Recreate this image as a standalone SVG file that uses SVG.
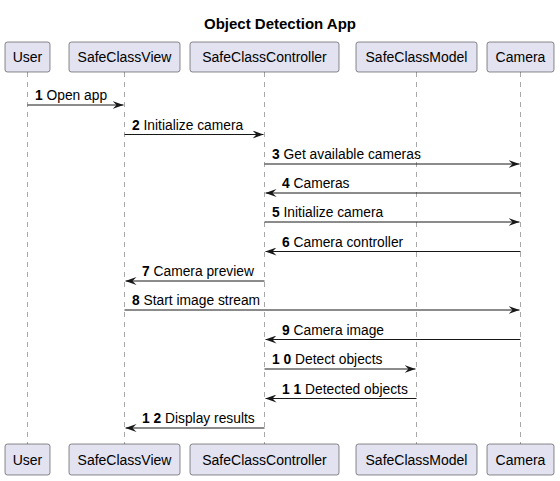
<svg xmlns="http://www.w3.org/2000/svg" width="560" height="481" viewBox="0 0 560 481">
<style>
text{font-family:"Liberation Sans",Arial,sans-serif;fill:#000}
.title{font-size:15px;font-weight:bold}
.pbox{fill:#E2E2F0;stroke:#181818;stroke-width:0.5}
.pname{font-size:14px}
.life{stroke:#A8A8A8;stroke-width:1;stroke-dasharray:5 5}
.msg{stroke:#181818;stroke-width:1}
.lbl{font-size:13.8px}
.num{font-weight:bold}
</style>
<defs>
<marker id="ah" viewBox="0 0 11 8" refX="11" refY="4" markerWidth="11" markerHeight="8" markerUnits="userSpaceOnUse" orient="auto">
<polygon points="0,0 11,4 0,8 4,4" fill="#181818"/>
</marker>
</defs>
<rect width="560" height="481" fill="#fff"/>
<text class="title" x="280" y="29" text-anchor="middle">Object Detection App</text>
<g id="lifelines">
<line class="life" x1="27.5" y1="72" x2="27.5" y2="444"/>
<line class="life" x1="124.5" y1="72" x2="124.5" y2="444"/>
<line class="life" x1="264.5" y1="72" x2="264.5" y2="444"/>
<line class="life" x1="416.5" y1="72" x2="416.5" y2="444"/>
<line class="life" x1="520.5" y1="72" x2="520.5" y2="444"/>
</g>
<g id="User">
<rect class="pbox" x="5" y="42" width="45" height="30" rx="2.5"/>
<text class="pname" x="27.5" y="62" text-anchor="middle">User</text>
<rect class="pbox" x="5" y="444" width="45" height="31" rx="2.5"/>
<text class="pname" x="27.5" y="465" text-anchor="middle">User</text>
</g>
<g id="SafeClassView">
<rect class="pbox" x="69" y="42" width="111" height="30" rx="2.5"/>
<text class="pname" x="124.5" y="62" text-anchor="middle">SafeClassView</text>
<rect class="pbox" x="69" y="444" width="111" height="31" rx="2.5"/>
<text class="pname" x="124.5" y="465" text-anchor="middle">SafeClassView</text>
</g>
<g id="SafeClassController">
<rect class="pbox" x="190" y="42" width="149" height="30" rx="2.5"/>
<text class="pname" x="264.5" y="62" text-anchor="middle">SafeClassController</text>
<rect class="pbox" x="190" y="444" width="149" height="31" rx="2.5"/>
<text class="pname" x="264.5" y="465" text-anchor="middle">SafeClassController</text>
</g>
<g id="SafeClassModel">
<rect class="pbox" x="356" y="42" width="121" height="30" rx="2.5"/>
<text class="pname" x="416.5" y="62" text-anchor="middle">SafeClassModel</text>
<rect class="pbox" x="356" y="444" width="121" height="31" rx="2.5"/>
<text class="pname" x="416.5" y="465" text-anchor="middle">SafeClassModel</text>
</g>
<g id="Camera">
<rect class="pbox" x="487" y="42" width="67" height="30" rx="2.5"/>
<text class="pname" x="520.5" y="62" text-anchor="middle">Camera</text>
<rect class="pbox" x="487" y="444" width="67" height="31" rx="2.5"/>
<text class="pname" x="520.5" y="465" text-anchor="middle">Camera</text>
</g>
<g id="connectors">
<line class="msg" x1="27.5" y1="105" x2="123.5" y2="105" marker-end="url(#ah)"/>
<text class="lbl" x="35" y="100"><tspan class="num">1</tspan> Open app</text>
<line class="msg" x1="124.5" y1="134.5" x2="263.5" y2="134.5" marker-end="url(#ah)"/>
<text class="lbl" x="132" y="129.5"><tspan class="num">2</tspan> Initialize camera</text>
<line class="msg" x1="264.5" y1="164" x2="519.5" y2="164" marker-end="url(#ah)"/>
<text class="lbl" x="272" y="159"><tspan class="num">3</tspan> Get available cameras</text>
<line class="msg" x1="520.5" y1="193" x2="265.5" y2="193" marker-end="url(#ah)"/>
<text class="lbl" x="282" y="188"><tspan class="num">4</tspan> Cameras</text>
<line class="msg" x1="264.5" y1="222" x2="519.5" y2="222" marker-end="url(#ah)"/>
<text class="lbl" x="272" y="217"><tspan class="num">5</tspan> Initialize camera</text>
<line class="msg" x1="520.5" y1="251.5" x2="265.5" y2="251.5" marker-end="url(#ah)"/>
<text class="lbl" x="282" y="246.5"><tspan class="num">6</tspan> Camera controller</text>
<line class="msg" x1="264.5" y1="281" x2="125.5" y2="281" marker-end="url(#ah)"/>
<text class="lbl" x="142" y="276"><tspan class="num">7</tspan> Camera preview</text>
<line class="msg" x1="124.5" y1="310" x2="519.5" y2="310" marker-end="url(#ah)"/>
<text class="lbl" x="132" y="305"><tspan class="num">8</tspan> Start image stream</text>
<line class="msg" x1="520.5" y1="339.5" x2="265.5" y2="339.5" marker-end="url(#ah)"/>
<text class="lbl" x="282" y="334.5"><tspan class="num">9</tspan> Camera image</text>
<line class="msg" x1="264.5" y1="369" x2="415.5" y2="369" marker-end="url(#ah)"/>
<text class="lbl" x="272" y="364"><tspan class="num">1 0</tspan> Detect objects</text>
<line class="msg" x1="416.5" y1="398.5" x2="265.5" y2="398.5" marker-end="url(#ah)"/>
<text class="lbl" x="282" y="393.5"><tspan class="num">1 1</tspan> Detected objects</text>
<line class="msg" x1="264.5" y1="428" x2="125.5" y2="428" marker-end="url(#ah)"/>
<text class="lbl" x="142" y="423"><tspan class="num">1 2</tspan> Display results</text>
</g>
</svg>
